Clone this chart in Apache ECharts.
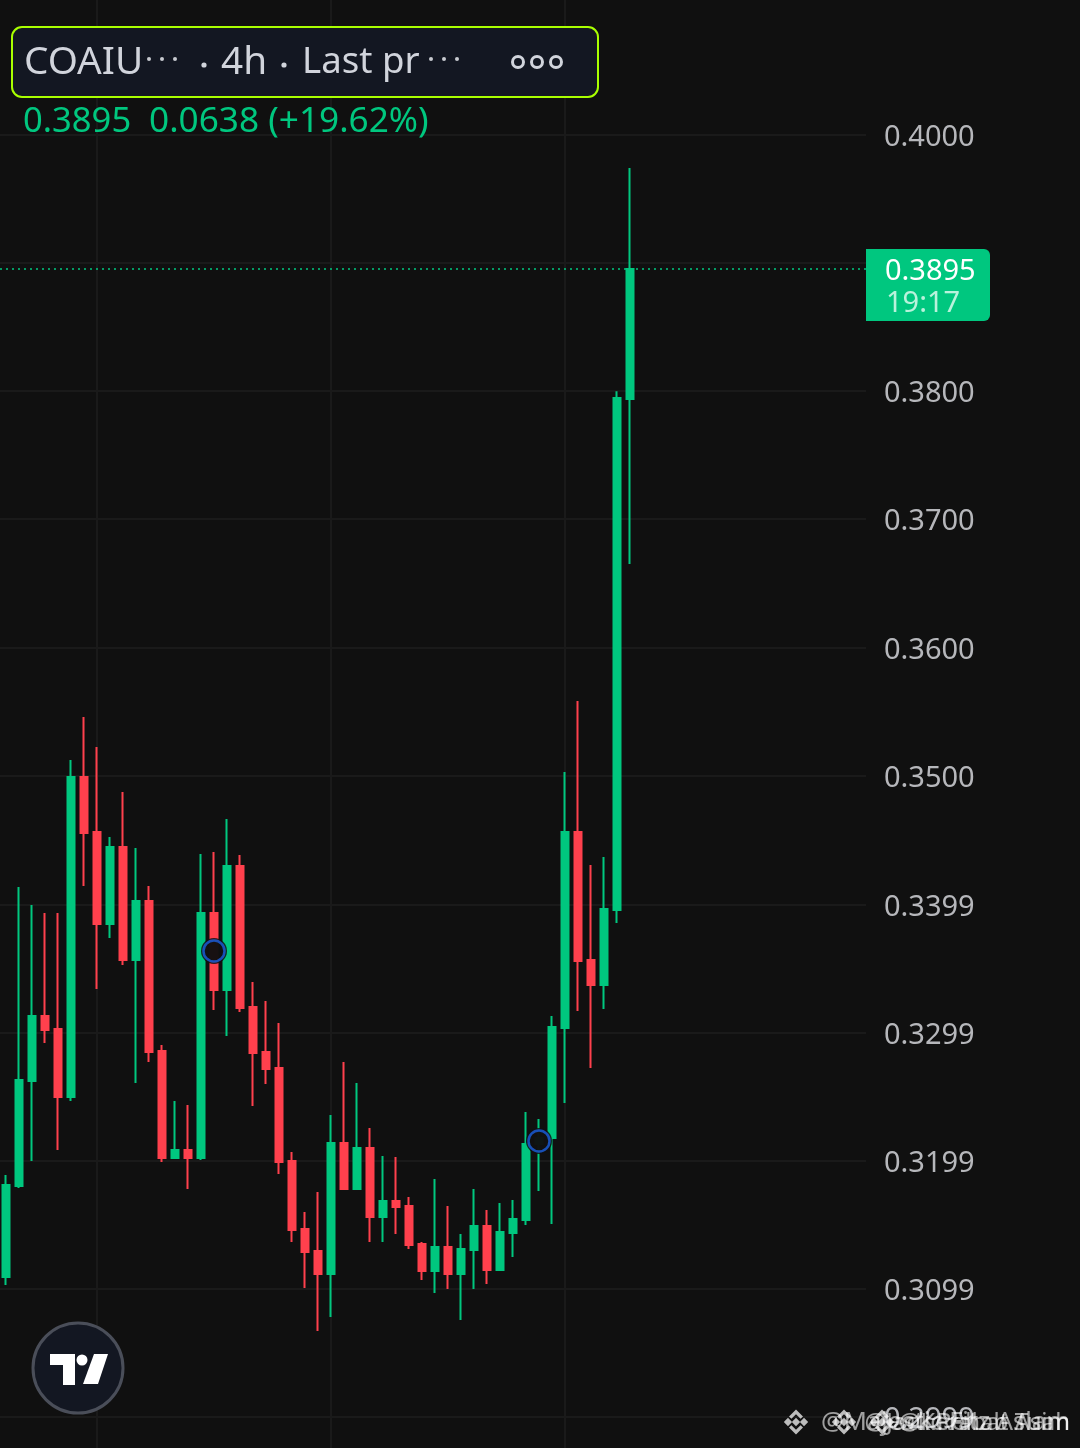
<!DOCTYPE html>
<html><head><meta charset="utf-8">
<style>html,body{margin:0;padding:0;background:#101010}#c{width:1080px;height:1448px}</style>
<script src="https://cdn.jsdelivr.net/npm/echarts@6/dist/echarts.min.js"></script></head>
<body><div id="c"></div>
<script>
const slots=[11,12,13,14,15,16,17,18,19,20,21,22,23,24,25,26,27,28,29,30,31,32,33,34,35,36,37,38,39,40,41,42,43,44,45,46,47,48,49,50,51,52,53,54,55,56,57,58,59];
const opens=[.31083,.31794,.32614,.33121,.33020,.32489,.34987,.34558,.33839,.34441,.33558,.34019,.32848,.32012,.32075,.32012,.33925,.33324,.34292,.33191,.32840,.32715,.31989,.31458,.31286,.31107,.32130,.31770,.32090,.31552,.31677,.31638,.31341,.31130,.31318,.31107,.31294,.31481,.31138,.31427,.31528,.32122,.32169,.33027,.34558,.33558,.33363,.33949,.37939];
const closes=[.31802,.32621,.33121,.33012,.32489,.34987,.34550,.33839,.34441,.33558,.34019,.32840,.32012,.32075,.32012,.33925,.33324,.34292,.33184,.32832,.32707,.31981,.31450,.31278,.31107,.32130,.31770,.32090,.31552,.31677,.31630,.31333,.31130,.31318,.31107,.31302,.31481,.31138,.31435,.31536,.32122,.32169,.33035,.34558,.33551,.33363,.33957,.37946,.38954];
const lows=[.31021,.31778,.31989,.32910,.32075,.32457,.34136,.33332,.33730,.33519,.32598,.32762,.31981,.32005,.31770,.31997,.33168,.32965,.33152,.32418,.32590,.31887,.31357,.30997,.30662,.30771,.31770,.31770,.31357,.31357,.31419,.31302,.31060,.30958,.30990,.30748,.30990,.31029,.31138,.31239,.31489,.31755,.31497,.32442,.33160,.32715,.33176,.33847,.36650];
const highs=[.31880,.34128,.33988,.33925,.33925,.35120,.35456,.35222,.34519,.34870,.34433,.34136,.32895,.32457,.32426,.34386,.34402,.34659,.34378,.33387,.33238,.33066,.32059,.31591,.31747,.32348,.32762,.32598,.32247,.32028,.32020,.31708,.31357,.31848,.31638,.31419,.31770,.31606,.31661,.31684,.32372,.32317,.33121,.35026,.35581,.34300,.34363,.38000,.39742];
const gridTicks=[0.2999,0.3099,0.3199,0.3299,0.3399,0.35,0.36,0.37,0.38,0.39,0.40];
const tickLabels=[0.2999,0.3099,0.3199,0.3299,0.3399,0.35,0.36,0.37,0.38,0.40];
const timeTicks=[18,36,54];
const lastPrice=0.38954;
const markerSlots=[27,52];
const markerPrices=[0.33629,0.32145];
const GREEN='#00c77f',RED='#ff404d',BG='#101010';
const UI='"Noto Sans"';

const candles=slots.map((x,i)=>[x,opens[i],closes[i],lows[i],highs[i]]);
const markers=markerSlots.map((x,i)=>[x,markerPrices[i]]);

function binance(cx,cy,fill,z){ // watermark icon centred on cx,cy
  const parts=[
   [[0,-4.2],[4.2,0],[0,4.2],[-4.2,0]],
   [[-8,-4.2],[-3.9,0],[-8,4.2],[-12.2,0]],
   [[8,-4.2],[12.2,0],[8,4.2],[3.9,0]],
   [[0,-12.6],[7,-5.6],[4.6,-3.2],[0,-7.8],[-4.6,-3.2],[-7,-5.6]],
   [[0,12.6],[7,5.6],[4.6,3.2],[0,7.8],[-4.6,3.2],[-7,5.6]]];
  return parts.map(p=>({type:'polygon',z:z,silent:true,shape:{points:p.map(q=>[q[0]+cx,q[1]+cy])},style:{fill:fill}}));
}
const label=(t,x,y,size,fill,z)=>({type:'text',x:x,y:y,z:z||110,silent:true,style:{text:t,font:`${size}px ${UI}`,fill:fill,textVerticalAlign:'middle'}});
const dots=(x,y)=>[0,1,2].map(i=>({type:'circle',z:110,silent:true,shape:{cx:x+i*13,cy:y,r:2},style:{fill:'#c8cad0'}}));
const mark=(t,size)=>({type:'text',z:120,silent:true,x:1070,y:1423,style:{text:t,align:'right',font:`${size}px ${UI}`,fill:'rgba(255,255,255,.6)',textVerticalAlign:'middle'}});

const graphic=[
 {type:'rect',z:100,silent:true,shape:{x:12,y:27,width:586,height:70,r:10},style:{fill:'#131722',stroke:'#a9ff00',lineWidth:2}},
 label('COAIU',24,63,38.7,'#d1d4dc'),
 ...dots(149,59),
 {type:'circle',z:110,silent:true,shape:{cx:204,cy:65,r:2.6},style:{fill:'#d1d4dc'}},
 label('4h',221,63,38.7,'#d1d4dc'),
 {type:'circle',z:110,silent:true,shape:{cx:284,cy:65,r:2.6},style:{fill:'#d1d4dc'}},
 label('Last pr',302,63,36.6,'#d1d4dc'),
 ...dots(431,59),
 ...[518,537,556].map(x=>({type:'circle',z:110,silent:true,shape:{cx:x,cy:62,r:5.5},style:{fill:'none',stroke:'#d1d4dc',lineWidth:3}})),
 label('0.3895',23,122,34.6,GREEN),
 label('0.0638 (+19.62%)',149,122,35.2,GREEN),
 {type:'rect',z:100,silent:true,shape:{x:866,y:249,width:124,height:72,r:[0,6,6,0]},style:{fill:GREEN}},
 label('0.3895',885,272,29,'#ffffff'),
 label('19:17',886,304,29,'#b9f2dc'),
 {type:'circle',z:100,silent:true,shape:{cx:78,cy:1368,r:45},style:{fill:'#131722',stroke:'#4a4e59',lineWidth:3}},
 {type:'polygon',z:101,silent:true,shape:{points:[[50,1354],[75,1354],[75,1385],[63,1385],[63,1365],[50,1365]]},style:{fill:'#fff'}},
 {type:'circle',z:101,silent:true,shape:{cx:82,cy:1360,r:5.5},style:{fill:'#fff'}},
 {type:'polygon',z:101,silent:true,shape:{points:[[94,1354],[108,1354],[98,1384],[83,1384]]},style:{fill:'#fff'}},
 ...binance(796,1422,'rgba(255,255,255,.72)',120),
 ...binance(844,1422,'rgba(255,255,255,.72)',120),
 ...binance(882,1422,'rgba(255,255,255,.72)',120),
 mark('@Majestic Fitz Aslam',25.5),
 mark('@Jack Rehab Asim',24),
 mark('@Kerabat Tuah',24)
];

const chart=echarts.init(document.getElementById('c'),null,{renderer:'canvas'});
chart.setOption({
 animation:false,backgroundColor:BG,
 grid:{left:0,right:214,top:0,bottom:0,containLabel:false},
 xAxis:{type:'value',min:11-6/13,max:11-6/13+866/13,axisLine:{show:false},axisTick:{show:false,customValues:timeTicks},axisLabel:{show:false,customValues:timeTicks},
   splitLine:{show:true,showMinLine:true,showMaxLine:true,lineStyle:{color:'#1a1a1a',width:2}}},
 yAxis:{type:'value',position:'right',min:0.29748,max:0.41054,axisLine:{show:false},
   axisTick:{show:false,customValues:gridTicks},
   axisLabel:{show:true,customValues:tickLabels,margin:18,verticalAlign:'top',lineHeight:6,align:'left',color:'#b6b7bb',fontFamily:UI,fontSize:29,formatter:v=>v.toFixed(4)},
   splitLine:{show:true,lineStyle:{color:'#1a1a1a',width:2}}},
 series:[
  {type:'candlestick',data:candles,encode:{x:0,y:[1,2,3,4]},barWidth:8,clip:false,
   itemStyle:{color:GREEN,color0:RED,borderColor:GREEN,borderColor0:RED,borderWidth:2},
   markLine:{silent:true,symbol:'none',animation:false,precision:5,label:{show:false},lineStyle:{color:GREEN,type:[2,4],width:1.5},data:[{yAxis:lastPrice}]}},
  {type:'scatter',data:markers,symbolSize:26,itemStyle:{color:BG,opacity:.85},silent:true,z:5},
  {type:'scatter',data:markers,symbolSize:21,itemStyle:{color:BG,borderColor:'#1a5fe0',borderWidth:2.5},silent:true,z:6}
 ],
 graphic:{elements:graphic}
});
</script></body></html>
